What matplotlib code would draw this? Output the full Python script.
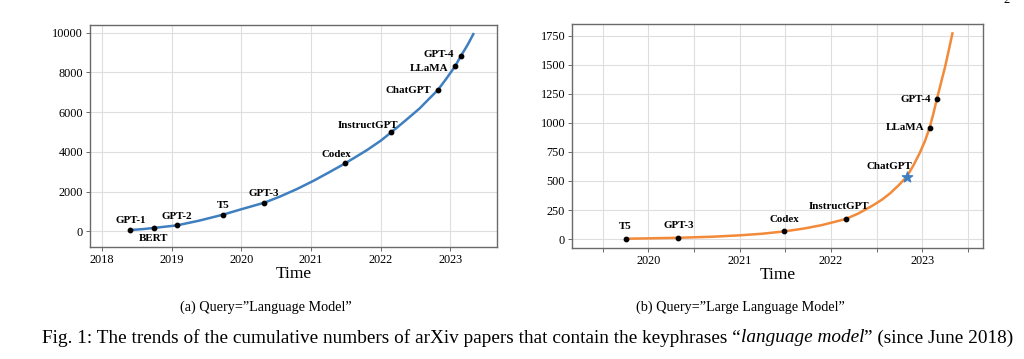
import matplotlib
matplotlib.use("Agg")
import matplotlib.pyplot as plt
from matplotlib.ticker import MultipleLocator
from matplotlib import font_manager as fm

plt.rcParams['font.family'] = ['Liberation Serif', 'DejaVu Serif']

# ---------------- data (a) Query="Language Model" ----------------
lm_curve_t = [2018.41, 2018.6, 2018.745, 2018.9, 2019.08, 2019.4, 2019.74, 2020.0, 2020.33,
              2020.55, 2020.8, 2021.03, 2021.25, 2021.49, 2021.8, 2022.0, 2022.15, 2022.35,
              2022.56, 2022.7, 2022.82, 2022.95, 2023.07, 2023.15, 2023.25, 2023.33]
lm_curve_v = [65, 115, 170, 230, 300, 540, 840, 1110, 1440,
              1741, 2130, 2531, 2950, 3420, 4080, 4560, 4980, 5560,
              6190, 6690, 7110, 7720, 8320, 8820, 9400, 9930]
lm_names = ['GPT-1', 'BERT', 'GPT-2', 'T5', 'GPT-3', 'Codex', 'InstructGPT', 'ChatGPT', 'LLaMA', 'GPT-4']
lm_t = [2018.41, 2018.745, 2019.08, 2019.74, 2020.33, 2021.49, 2022.15, 2022.82, 2023.07, 2023.15]
lm_v = [65, 170, 300, 840, 1440, 3420, 4980, 7110, 8320, 8820]

# ---------------- data (b) Query="Large Language Model" ----------------
llm_curve_t = [2019.75, 2020.0, 2020.33, 2020.7, 2021.0, 2021.25, 2021.49, 2021.7, 2021.9,
               2022.16, 2022.3, 2022.46, 2022.56, 2022.65, 2022.75, 2022.83, 2022.9, 2022.97,
               2023.03, 2023.08, 2023.12, 2023.16, 2023.21, 2023.25, 2023.29, 2023.33]
llm_curve_v = [3, 6, 11, 20, 32, 46, 66, 90, 120,
               172, 220, 290, 340, 395, 470, 536, 630, 737,
               845, 958, 1075, 1205, 1360, 1483, 1625, 1770]
llm_names = ['T5', 'GPT-3', 'Codex', 'InstructGPT', 'ChatGPT', 'LLaMA', 'GPT-4']
llm_t = [2019.75, 2020.33, 2021.49, 2022.16, 2022.83, 2023.08, 2023.16]
llm_v = [3, 11, 66, 172, 536, 958, 1205]

# ---------------- figure ----------------
fig = plt.figure(figsize=(10.24, 3.59), dpi=100)
axA = fig.add_axes([90/1024, 1-247/359, 407/1024, 222/359])
axB = fig.add_axes([572/1024, 1-248/359, 411/1024, 224/359])

BLUE = '#3f7fbf'
ORANGE = '#f28a3a'
SPINE = '#6a6a6a'
GRID = '#dedede'

def style(ax):
    for s in ax.spines.values():
        s.set_color(SPINE)
        s.set_linewidth(1.0)
    ax.tick_params(axis='both', which='both', labelsize=8.8, length=3, width=0.7,
                   color=SPINE, pad=2)
    ax.grid(True, which='major', color=GRID, linewidth=0.8)
    ax.set_axisbelow(True)
    ax.set_xlabel('Time', fontsize=12.5, labelpad=0)

LABEL_FS = 7.9

# (a)
axA.plot(lm_curve_t, lm_curve_v, color=BLUE, lw=1.8, zorder=2)
axA.scatter(lm_t, lm_v, s=10, color='black', zorder=3)
axA.set_xlim(2017.83, 2023.67)
axA.set_ylim(-790, 10390)
axA.set_xticks([2018, 2019, 2020, 2021, 2022, 2023])
axA.set_yticks([0, 2000, 4000, 6000, 8000, 10000])
style(axA)

# label offsets in pixels (dx, dy, ha)
lm_off = {
    'GPT-1': (0, 9.5, 'center'),
    'BERT': (0, -10.7, 'center'),
    'GPT-2': (0, 9.3, 'center'),
    'T5': (0, 9, 'center'),
    'GPT-3': (0, 9.7, 'center'),
    'Codex': (-9, 9, 'center'),
    'InstructGPT': (-23, 7, 'center'),
    'ChatGPT': (-6.5, 0, 'right'),
    'LLaMA': (-6.5, -2.5, 'right'),
    'GPT-4': (-7.2, 1.5, 'right'),
}
for n, t, v in zip(lm_names, lm_t, lm_v):
    dx, dy, ha = lm_off[n]
    axA.annotate(n, (t, v), xytext=(dx, dy), textcoords='offset pixels',
                 ha=ha, va='center', fontsize=LABEL_FS, fontweight='bold', zorder=4)

# (b)
axB.plot(llm_curve_t, llm_curve_v, color=ORANGE, lw=1.8, zorder=2)
for n, t, v in zip(llm_names, llm_t, llm_v):
    if n == 'ChatGPT':
        axB.scatter([t], [v], s=60, marker='*', color=BLUE, zorder=3)
    else:
        axB.scatter([t], [v], s=10, color='black', zorder=3)
axB.set_xlim(2019.164, 2023.665)
axB.set_ylim(-77, 1851)
axB.set_xticks([2020, 2021, 2022, 2023])
axB.xaxis.set_minor_locator(MultipleLocator(0.5))
axB.set_yticks([0, 250, 500, 750, 1000, 1250, 1500, 1750])
style(axB)
axB.grid(True, which='minor', axis='x', color=GRID, linewidth=0.8)

llm_off = {
    'T5': (0, 12.7, 'center'),
    'GPT-3': (0, 12.4, 'center'),
    'Codex': (0, 12.3, 'center'),
    'InstructGPT': (-7, 12.3, 'center'),
    'ChatGPT': (-17.7, 10.3, 'center'),
    'LLaMA': (-4.7, 0, 'right'),
    'GPT-4': (-6, 0, 'right'),
}
for n, t, v in zip(llm_names, llm_t, llm_v):
    dx, dy, ha = llm_off[n]
    axB.annotate(n, (t, v), xytext=(dx, dy), textcoords='offset pixels',
                 ha=ha, va='center', fontsize=LABEL_FS, fontweight='bold', zorder=4)

# ---------------- captions ----------------
SER = ['Liberation Serif', 'DejaVu Serif']
fig.text(266/1024, 1-307/359, '(a) Query=\u201dLanguage Model\u201d', ha='center', va='center',
         fontsize=10.2, family=SER)
fig.text(740/1024, 1-307/359, '(b) Query=\u201dLarge Language Model\u201d', ha='center', va='center',
         fontsize=10.2, family=SER)

cap_parts = [
    ('Fig. 1: The trends of the cumulative numbers of arXiv papers that contain the keyphrases \u201c', 'normal'),
    ('language model', 'italic'),
    ('\u201d (since June 2018)', 'normal'),
]
fig.canvas.draw()
renderer = fig.canvas.get_renderer()
tmp = []
total = 0
for txt, st in cap_parts:
    t = fig.text(0, 0, txt, fontsize=10, style=st, family=SER)
    total += t.get_window_extent(renderer=renderer).width
    tmp.append(t)
for t in tmp:
    t.remove()
cap_size = 10*973/total
x = 42
for txt, st in cap_parts:
    t = fig.text(x/1024, 1-338/359, txt, ha='left', va='center', fontsize=cap_size,
                 style=st, family=SER)
    x += t.get_window_extent(renderer=renderer).width

fig.text(1003/1024, 1.0, '2', ha='left', va='center', fontsize=9)

fig.savefig('out.png', dpi=100)
